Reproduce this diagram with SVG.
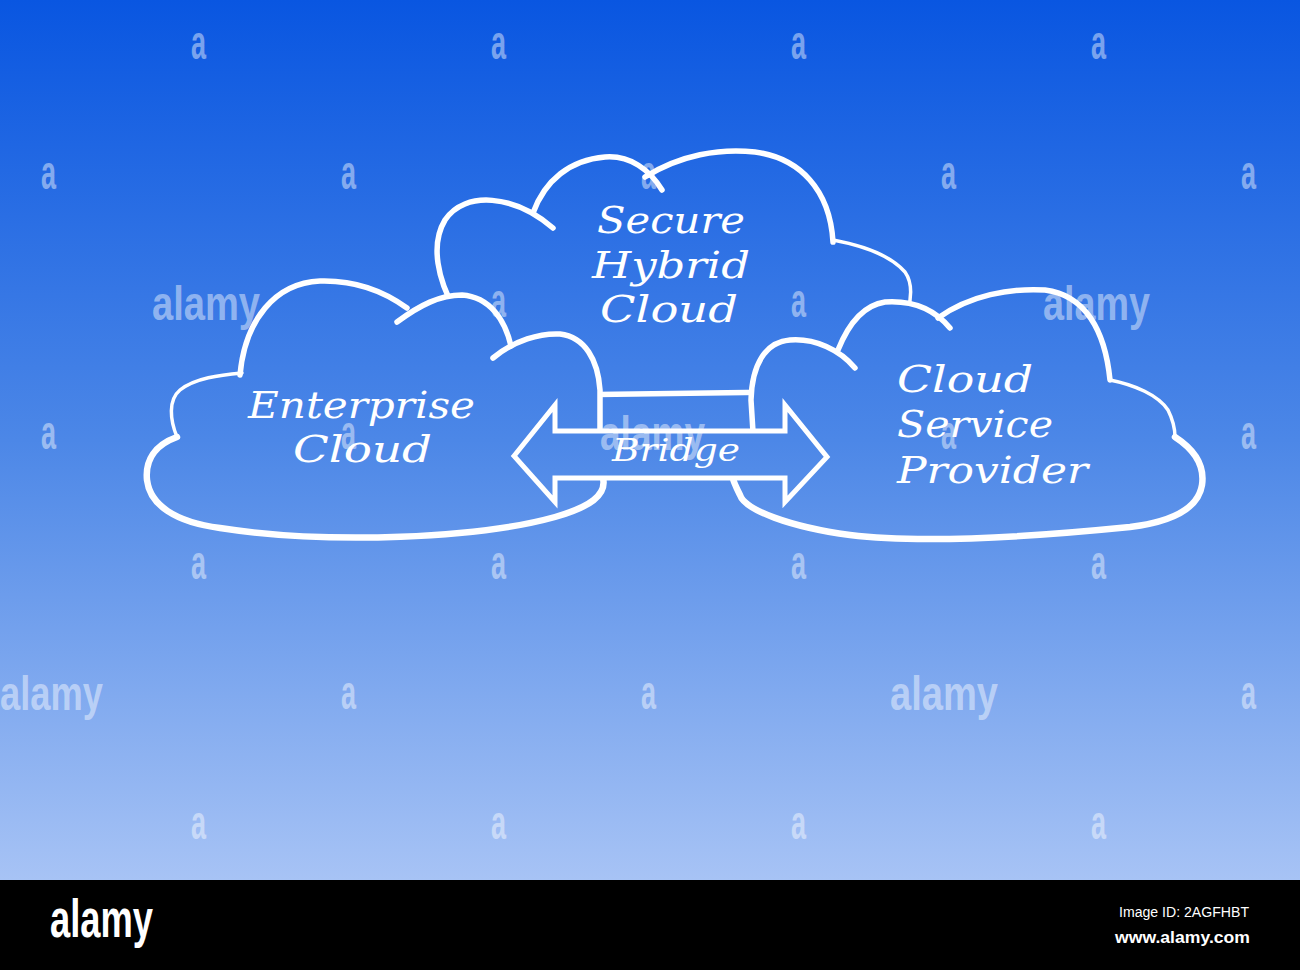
<svg xmlns="http://www.w3.org/2000/svg" width="1300" height="970" viewBox="0 0 1300 970">
<defs>
<linearGradient id="sky" gradientUnits="userSpaceOnUse" x1="0" y1="0" x2="0" y2="880">
<stop offset="0" stop-color="#0956E1"/>
<stop offset="0.5" stop-color="#4C87E7"/>
<stop offset="1" stop-color="#A7C3F5"/>
</linearGradient>
<style>
.ln{fill:none;stroke:#fff;stroke-width:5.5;stroke-linecap:round;stroke-linejoin:round}
.thin{stroke-width:3.5}
.thick{stroke-width:6.5}
.cover{fill:url(#sky);stroke:none}
.lbl{font-family:"DejaVu Serif","Liberation Serif",serif;font-style:italic;font-size:37px;fill:#fff}
.br{font-size:31px}
.wm{font-family:"Liberation Sans",Arial,sans-serif;font-weight:bold;font-size:48px;fill:#fff;fill-opacity:0.45}
.bar{font-family:"Liberation Sans",Arial,sans-serif;fill:#fff}
</style>
</defs>
<rect x="0" y="0" width="1300" height="880" fill="url(#sky)"/>

<g id="hybrid-cloud">
<path class="ln" d="M455 310 C438 280,430 245,445 220 C465 190,515 195,553 228"/>
<path class="ln" d="M533 213 C545 180,570 160,605 157 C630 155,650 170,662 190"/>
<path class="ln" d="M645 177 C680 155,720 148,755 152 C800 158,830 190,833 242"/>
<path class="ln thin" d="M833 240 C860 245,890 255,905 272 C912 282,912 295,908 310"/>
<path class="ln" d="M560 395 L790 392"/>
<text class="lbl" x="597" y="233" textLength="148" lengthAdjust="spacingAndGlyphs">Secure</text>
<text class="lbl" x="592" y="278" textLength="158" lengthAdjust="spacingAndGlyphs">Hybrid</text>
<text class="lbl" x="600" y="322" textLength="138" lengthAdjust="spacingAndGlyphs">Cloud</text>
</g>

<g id="enterprise-cloud">
<path class="cover" d="M177 435 C150 440,140 465,150 490 C160 515,185 525,230 530 C330 545,480 540,555 518 C590 505,605 495,600 480 L600 430 C600 395,598 360,580 343 C555 330,525 338,505 350 C495 320,480 300,460 295 C440 292,415 303,400 318 C380 290,350 278,320 280 C275 285,245 315,240 372 C200 375,170 385,172 410 Z"/>
<path class="ln" d="M240 375 C245 320,275 283,320 281 C355 280,385 292,407 308"/>
<path class="ln" d="M397 322 C420 305,440 295,462 295 C490 297,505 320,511 346"/>
<path class="ln" d="M493 358 C515 340,540 333,560 334 C585 337,598 360,600 390 L600 432"/>
<path class="ln thick" d="M603 478 C607 495,590 507,555 517 C480 538,330 545,220 528 C175 522,150 505,147 480 C145 460,155 445,177 437"/>
<path class="ln thin" d="M177 437 C170 420,168 400,180 390 C195 378,220 375,242 373"/>
<text class="lbl" x="248" y="418" textLength="227" lengthAdjust="spacingAndGlyphs">Enterprise</text>
<text class="lbl" x="293" y="462" textLength="139" lengthAdjust="spacingAndGlyphs">Cloud</text>
</g>

<g id="csp-cloud">
<path class="cover" d="M751 432 L751 400 C752 365,765 342,790 340 C812 338,830 345,845 358 C855 320,868 303,885 302 C910 300,930 308,945 322 C975 296,1010 288,1045 290 C1085 295,1105 330,1110 380 C1135 385,1158 395,1168 410 C1173 420,1175 430,1175 437 C1195 450,1205 465,1202 485 C1198 510,1170 522,1130 527 C1050 535,930 545,850 535 C790 527,745 510,740 495 C735 485,733 480,733 478 Z"/>
<path class="ln" d="M753 432 L751 400 C752 365,765 342,790 340 C815 338,840 350,855 368"/>
<path class="ln" d="M838 350 C850 320,865 305,885 302 C915 300,935 310,950 328"/>
<path class="ln" d="M938 318 C970 295,1010 288,1045 290 C1085 295,1105 330,1110 380"/>
<path class="ln thin" d="M1110 380 C1135 385,1158 395,1168 410 C1173 420,1175 430,1175 437"/>
<path class="ln thick" d="M1175 437 C1195 450,1205 465,1202 485 C1198 510,1170 522,1130 527 C1050 535,930 545,850 535 C790 527,745 510,740 495 C735 485,733 480,733 478"/>
<text class="lbl" x="897" y="392" textLength="136" lengthAdjust="spacingAndGlyphs">Cloud</text>
<text class="lbl" x="897" y="437" textLength="156" lengthAdjust="spacingAndGlyphs">Service</text>
<text class="lbl" x="897" y="483" textLength="191" lengthAdjust="spacingAndGlyphs">Provider</text>
</g>

<g id="connectors">
<g id="bridge">
<polygon points="514,456 555,405 555,431 785,431 785,405 827,457 785,502 785,478 555,478 555,502" fill="url(#sky)" stroke="#fff" stroke-width="5" stroke-linejoin="miter"/>
<text class="lbl br" x="612" y="461" textLength="128" lengthAdjust="spacingAndGlyphs">Bridge</text>
</g>
</g>

<g id="watermarks">
<text class="wm" x="191" y="59" textLength="15" lengthAdjust="spacingAndGlyphs">a</text>
<text class="wm" x="491" y="59" textLength="15" lengthAdjust="spacingAndGlyphs">a</text>
<text class="wm" x="791" y="59" textLength="15" lengthAdjust="spacingAndGlyphs">a</text>
<text class="wm" x="1091" y="59" textLength="15" lengthAdjust="spacingAndGlyphs">a</text>
<text class="wm" x="41" y="189" textLength="15" lengthAdjust="spacingAndGlyphs">a</text>
<text class="wm" x="341" y="189" textLength="15" lengthAdjust="spacingAndGlyphs">a</text>
<text class="wm" x="641" y="189" textLength="15" lengthAdjust="spacingAndGlyphs">a</text>
<text class="wm" x="941" y="189" textLength="15" lengthAdjust="spacingAndGlyphs">a</text>
<text class="wm" x="1241" y="189" textLength="15" lengthAdjust="spacingAndGlyphs">a</text>
<text class="wm" x="152" y="320" textLength="108" lengthAdjust="spacingAndGlyphs">alamy</text>
<text class="wm" x="491" y="317" textLength="15" lengthAdjust="spacingAndGlyphs">a</text>
<text class="wm" x="791" y="317" textLength="15" lengthAdjust="spacingAndGlyphs">a</text>
<text class="wm" x="1043" y="320" textLength="107" lengthAdjust="spacingAndGlyphs">alamy</text>
<text class="wm" x="41" y="449" textLength="15" lengthAdjust="spacingAndGlyphs">a</text>
<text class="wm" x="341" y="449" textLength="15" lengthAdjust="spacingAndGlyphs">a</text>
<text class="wm" x="600" y="450" textLength="105" lengthAdjust="spacingAndGlyphs">alamy</text>
<text class="wm" x="941" y="449" textLength="15" lengthAdjust="spacingAndGlyphs">a</text>
<text class="wm" x="1241" y="449" textLength="15" lengthAdjust="spacingAndGlyphs">a</text>
<text class="wm" x="191" y="579" textLength="15" lengthAdjust="spacingAndGlyphs">a</text>
<text class="wm" x="491" y="579" textLength="15" lengthAdjust="spacingAndGlyphs">a</text>
<text class="wm" x="791" y="579" textLength="15" lengthAdjust="spacingAndGlyphs">a</text>
<text class="wm" x="1091" y="579" textLength="15" lengthAdjust="spacingAndGlyphs">a</text>
<text class="wm" x="0" y="710" textLength="103" lengthAdjust="spacingAndGlyphs">alamy</text>
<text class="wm" x="341" y="709" textLength="15" lengthAdjust="spacingAndGlyphs">a</text>
<text class="wm" x="641" y="709" textLength="15" lengthAdjust="spacingAndGlyphs">a</text>
<text class="wm" x="890" y="710" textLength="108" lengthAdjust="spacingAndGlyphs">alamy</text>
<text class="wm" x="1241" y="709" textLength="15" lengthAdjust="spacingAndGlyphs">a</text>
<text class="wm" x="191" y="839" textLength="15" lengthAdjust="spacingAndGlyphs">a</text>
<text class="wm" x="491" y="839" textLength="15" lengthAdjust="spacingAndGlyphs">a</text>
<text class="wm" x="791" y="839" textLength="15" lengthAdjust="spacingAndGlyphs">a</text>
<text class="wm" x="1091" y="839" textLength="15" lengthAdjust="spacingAndGlyphs">a</text>
</g>

<g id="footer">
<rect x="0" y="880" width="1300" height="90" fill="#000"/>
<text class="bar" x="50" y="937" font-size="54" font-weight="bold" textLength="103" lengthAdjust="spacingAndGlyphs">alamy</text>
<text class="bar" x="1249" y="917" font-size="14" text-anchor="end" textLength="130" lengthAdjust="spacingAndGlyphs">Image ID: 2AGFHBT</text>
<text class="bar" x="1250" y="943" font-size="16" font-weight="bold" text-anchor="end" textLength="135" lengthAdjust="spacingAndGlyphs">www.alamy.com</text>
</g>
</svg>
